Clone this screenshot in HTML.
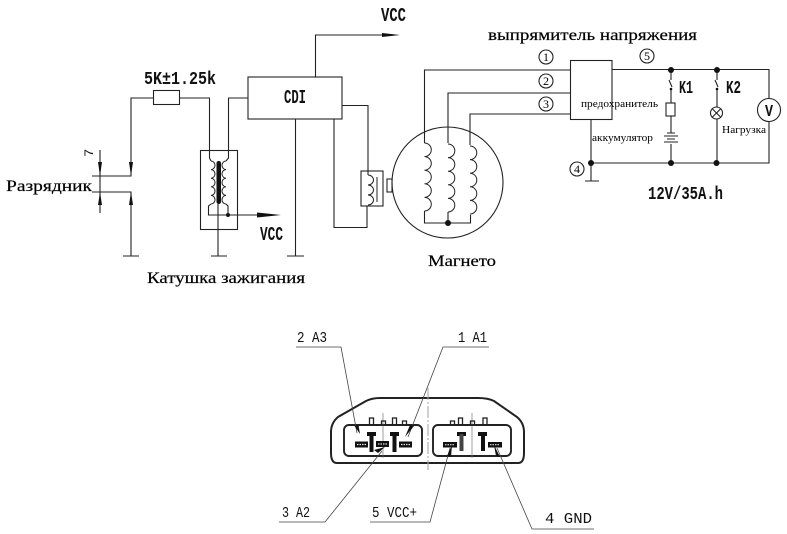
<!DOCTYPE html>
<html><head><meta charset="utf-8"><style>
html,body{margin:0;padding:0;background:#fff}
svg{display:block}
.s{font-family:"Liberation Serif","DejaVu Serif",serif;fill:#000;stroke:#000;stroke-width:.2}
.m{font-family:"Liberation Mono","DejaVu Sans Mono",monospace;fill:#111}
</style></head><body>
<svg width="787" height="534" viewBox="0 0 787 534" xmlns="http://www.w3.org/2000/svg">
<defs>
<path id="c5" d="M0 0a6.8 6.8 0 0 1 0 13.6a6.8 6.8 0 0 1 0 13.6a6.8 6.8 0 0 1 0 13.6a6.8 6.8 0 0 1 0 13.6a6.8 6.8 0 0 1 0 13.6" fill="none" stroke="#222" stroke-width="1"/>
</defs>
<rect width="787" height="534" fill="#fff"/>
<g fill="none" stroke="#222" stroke-width="1.1">
<rect x="248" y="77" width="94" height="42"/>
<path d="M315.500 77V35H382"/>
<rect x="153.500" y="90.500" width="26" height="14"/>
<path d="M153 98H131V176H92M92 192H131V256M123 256H139"/>
<path d="M180 98H209.500V158L211 161"/>
<path d="M248 98H228.500V158L226 161"/>
<rect x="200.500" y="150.500" width="37" height="79"/>
<path d="M211 161a4 4.300 0 0 1 0 8.600a4 4.300 0 0 1 0 8.600a4 4.300 0 0 1 0 8.600a4 4.300 0 0 1 0 8.600a4 4.300 0 0 1 0 8.600" stroke-width="1"/>
<path d="M226 161a4 4.300 0 0 0 0 8.600a4 4.300 0 0 0 0 8.600a4 4.300 0 0 0 0 8.600a4 4.300 0 0 0 0 8.600a4 4.300 0 0 0 0 8.600" stroke-width="1"/>
<path d="M218 204V256M211 256H227M295.500 119V256M287 256H304"/>
<path d="M211 204L208.500 206V215H260M226 204L228 206V215"/>
<path d="M334 119V227.500H367V206M342 105.500H368V175"/>
<rect x="361" y="171" width="22" height="35"/>
<path d="M377 177V202" stroke-width="1"/>
<path d="M100 150V213M92 176H106M92 192H106"/>
<circle cx="447.500" cy="182.500" r="55.500"/>
<rect x="387" y="179" width="5" height="13"/>
<path d="M424.500 143V70H570M448 143V93H570M470 145V114H570"/>
<path d="M424.500 211V223H470.500V215"/>
<path d="M448 212V223"/>
<rect x="570.500" y="60.500" width="41.500" height="59"/>
<path d="M612 69.500H769V99M769 121V163H591V181M591 119V163M585 181H599"/>
<path d="M671 70V80M671 89V103M671 116V133M671 144V163"/>
<path d="M717 70V80M717 89V107M717 119V163"/>
<path d="M669 80L672 87M715 80L718 87"/>
<rect x="666" y="103" width="9" height="13"/>
<path d="M667 133H675M664 136H678M667 139H675M664 142H678"/>
<circle cx="716.500" cy="113" r="6"/>
<path d="M712.500 109L720.500 117M720.500 109L712.500 117"/>
<circle cx="769" cy="110" r="11.500"/>
<circle cx="546" cy="57" r="7"/><circle cx="546" cy="81" r="7"/><circle cx="546" cy="104" r="7"/>
<circle cx="647" cy="56" r="7"/><circle cx="577" cy="169" r="7"/>
<path d="M331 453V432Q331 423 338 417L366 401Q372 398 380 398H478Q488 398 494 401L517 417Q524 423 524 432V453Q524 463 518 463H337Q331 463 331 453Z" stroke-width="2"/>
<rect x="344" y="425" width="78" height="31" rx="5" stroke-width="1.900"/>
<rect x="433" y="425" width="78" height="31" rx="5" stroke-width="1.900"/>
<path d="M428 388V470" stroke="#aaa" stroke-dasharray="12 2 2 2"/>
<path d="M383 413V458M472 413V458" stroke="#777" stroke-width=".7"/>
<g stroke-width="1.300">
<rect x="369.500" y="418" width="4" height="7"/><rect x="381.500" y="421" width="4" height="4"/>
<rect x="392.500" y="418" width="4" height="7"/><rect x="402.500" y="421" width="4" height="4"/>
<rect x="450.500" y="421" width="4" height="4"/><rect x="458.500" y="418" width="4" height="7"/>
<rect x="470.500" y="421" width="4" height="4"/><rect x="483" y="418" width="4" height="7"/>
</g>
<g stroke="#444" stroke-width=".8">
<path d="M296 347H341L357 433"/>
<path d="M489 347H443L408 437"/>
<path d="M279 522H325L382 451"/>
<path d="M370 522H430L450 448"/>
<path d="M594 529H532L497 448"/>
</g>
</g>
<g fill="#111">
<path d="M382 33L400 35L382 37Z"/>
<path d="M257 212.500L281 215L257 217.500Z"/>
<path d="M129 162H133L131 176ZM129 205H133L131 192Z"/>
<path d="M98 162H102L100 176ZM98 205H102L100 192Z"/>
<rect x="216.500" y="161" width="4.500" height="43" rx="2.200"/>
<circle cx="228" cy="215" r="2"/>
<circle cx="448" cy="223" r="3"/>
<circle cx="591" cy="163" r="3"/><circle cx="671" cy="163" r="3"/><circle cx="716.500" cy="163" r="3"/>
<circle cx="671" cy="70" r="3"/><circle cx="717" cy="70" r="3"/>
<circle cx="671" cy="89" r="1.300"/><circle cx="717" cy="89" r="1.300"/>
<path d="M354.500 426L358.500 425L360 434Z M414 426L410 425L405 437Z M374 450L378 453L385 447Z M447 456L451 457L452 445Z M500 457L496 456L494 445Z"/>
<rect x="355" y="441.500" width="13" height="6"/><rect x="376" y="441" width="13" height="6"/>
<rect x="399" y="441.500" width="13" height="6"/><rect x="443" y="442" width="14" height="5.500"/><rect x="488" y="442" width="14" height="5.500"/>
<rect x="367" y="432" width="9" height="4"/><rect x="369.500" y="434" width="4" height="18"/>
<rect x="390" y="432" width="9" height="4"/><rect x="392.500" y="434" width="4" height="18"/>
<rect x="457" y="432" width="9" height="4"/><rect x="459.500" y="434" width="4" height="17" fill="#444"/>
<rect x="478" y="432" width="9" height="4"/><rect x="481" y="434" width="4" height="17"/>
</g>
<path d="M357 444.500H366M378 444H387M401 444.500H410M445 444.700H455M490 444.700H500" stroke="#ddd" stroke-width="1.200" stroke-dasharray="1.500 1" fill="none"/>
<use href="#c5" x="424.500" y="143"/>
<use href="#c5" x="448" y="144"/>
<use href="#c5" x="470" y="146"/>
<path d="M368 175a5.500 5 0 0 1 0 10a5.500 5 0 0 1 0 10a5.500 5 0 0 1 0 10" fill="none" stroke="#222"/>

<g class="s">
<text x="488" y="40" font-size="16" textLength="209" lengthAdjust="spacingAndGlyphs">выпрямитель напряжения</text>
<text x="6" y="191" font-size="16" textLength="86" lengthAdjust="spacingAndGlyphs">Разрядник</text>
<text x="147" y="283" font-size="16" textLength="158" lengthAdjust="spacingAndGlyphs">Катушка зажигания</text>
<text x="428" y="266" font-size="16" textLength="68" lengthAdjust="spacingAndGlyphs">Магнето</text>
</g>
<g class="s" style="stroke-width:0">
<text x="581" y="107" font-size="10" textLength="77" lengthAdjust="spacingAndGlyphs">предохранитель</text>
<text x="592" y="141" font-size="10" textLength="61" lengthAdjust="spacingAndGlyphs">аккумулятор</text>
<text x="722" y="133" font-size="10" textLength="44" lengthAdjust="spacingAndGlyphs">Нагрузка</text>
<g font-size="12" text-anchor="middle">
<text x="546" y="61">1</text><text x="546" y="85">2</text><text x="546" y="108">3</text>
<text x="647" y="60">5</text><text x="577" y="173">4</text>
</g>
</g>
<g class="m" font-weight="bold">
<text x="381" y="21" font-size="19" textLength="25" lengthAdjust="spacingAndGlyphs">VCC</text>
<text x="260" y="240" font-size="19" textLength="23" lengthAdjust="spacingAndGlyphs">VCC</text>
<text x="284" y="103" font-size="19" textLength="22" lengthAdjust="spacingAndGlyphs">CDI</text>
<text x="144" y="84" font-size="18" textLength="72" lengthAdjust="spacingAndGlyphs">5K±1.25k</text>
<text x="648" y="199" font-size="18" textLength="75" lengthAdjust="spacingAndGlyphs">12V/35A.h</text>
<text x="679" y="93" font-size="18" textLength="14" lengthAdjust="spacingAndGlyphs">K1</text>
<text x="726" y="93" font-size="18" textLength="15" lengthAdjust="spacingAndGlyphs">K2</text>
<text x="765" y="116" font-size="17" textLength="8" lengthAdjust="spacingAndGlyphs">V</text>
<text x="0" y="0" font-size="14" font-weight="normal" transform="translate(93 157) rotate(-90) scale(1 .9)">7</text>
</g>
<g class="m" font-size="15">
<text x="297" y="342" textLength="30" lengthAdjust="spacingAndGlyphs">2 A3</text>
<text x="458" y="342" textLength="29" lengthAdjust="spacingAndGlyphs">1 A1</text>
<text x="282" y="517" textLength="28" lengthAdjust="spacingAndGlyphs">3 A2</text>
<text x="372" y="517" textLength="45" lengthAdjust="spacingAndGlyphs">5 VCC+</text>
<text x="545" y="523" textLength="47" lengthAdjust="spacingAndGlyphs">4  GND</text>
</g>
</svg>
</body></html>
